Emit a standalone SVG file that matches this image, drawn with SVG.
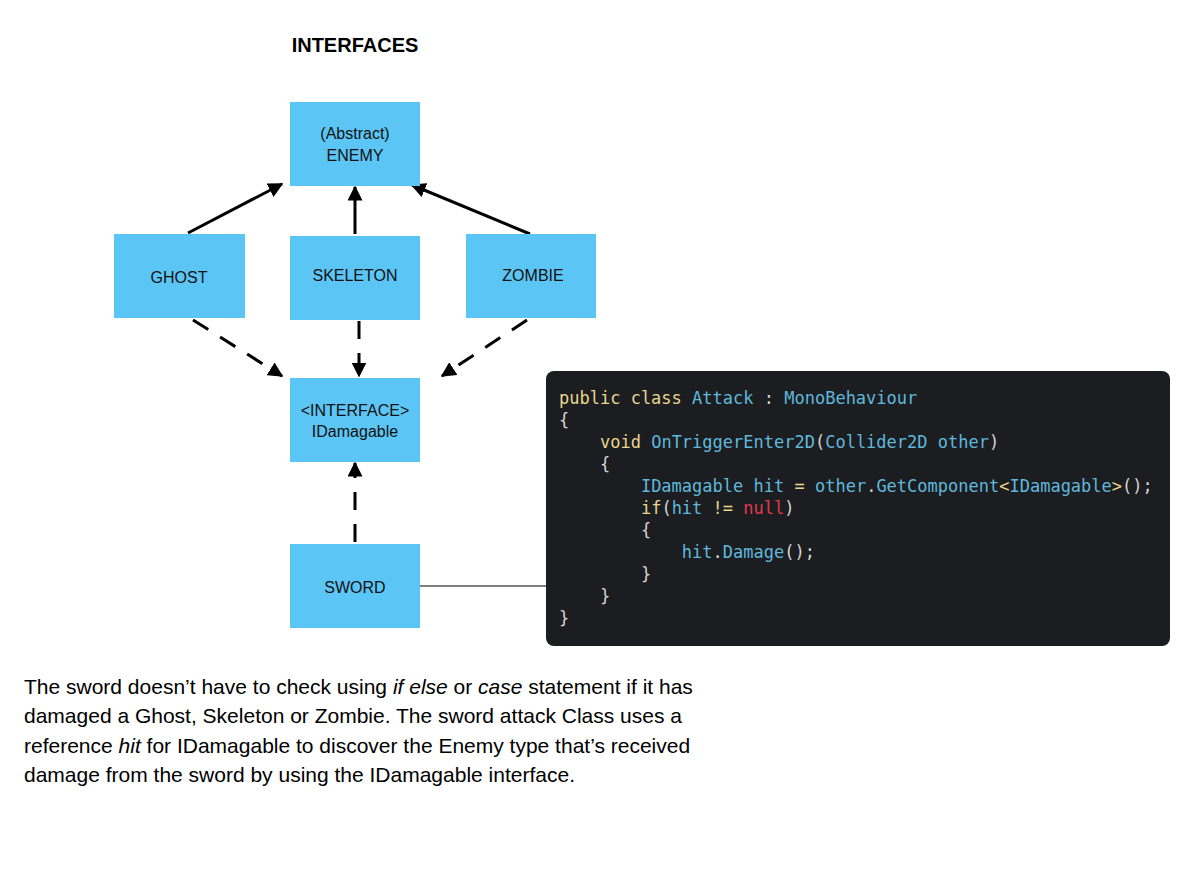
<svg xmlns="http://www.w3.org/2000/svg" width="1200" height="872" viewBox="0 0 1200 872">
<style>
.box{fill:#5bc5f5}
.lbl{font-family:"Liberation Sans",Arial,sans-serif;font-size:16px;fill:#111;text-anchor:middle}
.ln{stroke:#000;stroke-width:3;fill:none}
.dash{stroke-dasharray:18,14}
.code{font-family:"DejaVu Sans Mono",monospace;font-size:17px;fill:#d4d4d4}
.k{fill:#e8d68c}.t{fill:#5fb8dc}.n{fill:#e0394e}
.p{font-family:"Liberation Sans",Arial,sans-serif;font-size:21px;fill:#000}
</style>
<defs><marker id="a" viewBox="0 0 10 10" refX="9" refY="5" markerWidth="5" markerHeight="5" orient="auto"><path d="M0,0L10,5L0,10z" fill="#000"/></marker></defs>
<rect width="1200" height="872" fill="#fff"/>
<text x="355" y="52" text-anchor="middle" font-family="Liberation Sans,Arial,sans-serif" font-weight="bold" font-size="20">INTERFACES</text>
<g id="connectors">
<line class="ln" x1="188" y1="233" x2="282" y2="184" marker-end="url(#a)"/>
<line class="ln" x1="355" y1="234" x2="355" y2="187" marker-end="url(#a)"/>
<line class="ln" x1="530" y1="234" x2="412" y2="185" marker-end="url(#a)"/>
<line class="ln dash" x1="193" y1="320" x2="282" y2="376" marker-end="url(#a)"/>
<line class="ln dash" x1="359" y1="321" x2="359" y2="376" marker-end="url(#a)"/>
<line class="ln dash" x1="527" y1="320" x2="442" y2="376" marker-end="url(#a)"/>
<line class="ln dash" x1="355" y1="542" x2="355" y2="463" marker-end="url(#a)"/>
<line x1="420" y1="586" x2="570" y2="586" stroke="#000" stroke-width="1"/>
</g>
<g id="enemy"><rect class="box" x="290" y="102" width="130" height="84"/><text class="lbl" x="355" y="139">(Abstract)</text><text class="lbl" x="355" y="161">ENEMY</text></g>
<g id="ghost"><rect class="box" x="114" y="234" width="131" height="84"/><text class="lbl" x="179" y="283">GHOST</text></g>
<g id="skeleton"><rect class="box" x="290" y="236" width="130" height="84"/><text class="lbl" x="355" y="281">SKELETON</text></g>
<g id="zombie"><rect class="box" x="466" y="234" width="130" height="84"/><text class="lbl" x="533" y="281">ZOMBIE</text></g>
<g id="interface"><rect class="box" x="290" y="378" width="130" height="84"/><text class="lbl" x="355" y="416">&lt;INTERFACE&gt;</text><text class="lbl" x="355" y="437">IDamagable</text></g>
<g id="sword"><rect class="box" x="290" y="544" width="130" height="84"/><text class="lbl" x="355" y="593">SWORD</text></g>
<g id="code">
<rect x="546" y="371" width="624" height="275" rx="8" fill="#1b1d20"/>
<text class="code" xml:space="preserve"><tspan x="559" y="404"><tspan class="k">public class</tspan> <tspan class="t">Attack</tspan> : <tspan class="t">MonoBehaviour</tspan></tspan><tspan x="559" y="426">{</tspan><tspan x="559" y="448">    <tspan class="k">void</tspan> <tspan class="t">OnTriggerEnter2D</tspan>(<tspan class="t">Collider2D other</tspan>)</tspan><tspan x="559" y="470">    {</tspan><tspan x="559" y="492">        <tspan class="t">IDamagable hit</tspan> <tspan class="k">=</tspan> <tspan class="t">other</tspan>.<tspan class="t">GetComponent</tspan><tspan class="k">&lt;</tspan><tspan class="t">IDamagable</tspan><tspan class="k">&gt;</tspan>();</tspan><tspan x="559" y="514">        <tspan class="k">if</tspan>(<tspan class="t">hit</tspan> <tspan class="k">!=</tspan> <tspan class="n">null</tspan>)</tspan><tspan x="559" y="536">        {</tspan><tspan x="559" y="558">            <tspan class="t">hit</tspan>.<tspan class="t">Damage</tspan>();</tspan><tspan x="559" y="580">        }</tspan><tspan x="559" y="602">    }</tspan><tspan x="559" y="624">}</tspan></text>
</g>
<text class="p"><tspan x="24" y="694">The sword doesn’t have to check using <tspan font-style="italic">if else</tspan> or <tspan font-style="italic">case</tspan> statement if it has</tspan><tspan x="24" y="723">damaged a Ghost, Skeleton or Zombie. The sword attack Class uses a</tspan><tspan x="24" y="753">reference <tspan font-style="italic">hit</tspan> for IDamagable to discover the Enemy type that’s received</tspan><tspan x="24" y="782">damage from the sword by using the IDamagable interface.</tspan></text>
</svg>
